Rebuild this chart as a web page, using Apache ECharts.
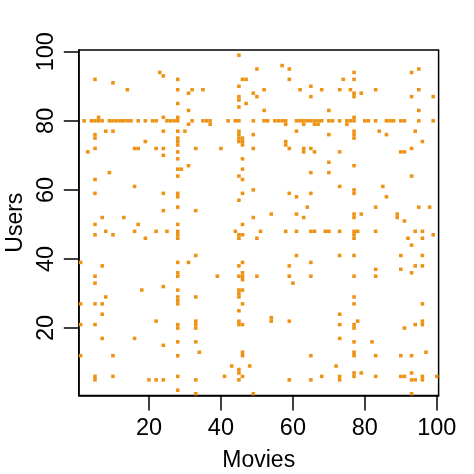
<!DOCTYPE html>
<html><head><meta charset="utf-8">
<script src="https://cdn.jsdelivr.net/npm/echarts@6/dist/echarts.min.js"></script>
<style>html,body{margin:0;padding:0;background:#fff}#c{width:474px;height:474px}</style>
</head><body><div id="c"></div>
<script>
// Tick labels
const xTicks = [20, 40, 60, 80, 100];
const yTicks = [20, 40, 60, 80, 100];
// Movies (columns) that have at least one rating
const movieIds = [1,2,3,4,5,6,7,8,9,10,11,12,13,14,15,16,17,18,19,20,21,22,23,24,25,26,27,28,29,30,31,32,33,34,35,36,37,39,40,41,42,43,44,45,46,47,48,49,50,51,52,53,54,55,56,57,58,59,60,61,62,63,64,65,66,67,68,69,70,71,72,73,74,75,76,77,78,79,80,81,82,83,84,85,86,87,88,89,90,91,92,93,94,95,96,97,98,99,100];
// Users who rated each movie (same order as movieIds)
const usersByMovie = [
  [39,27,21,12],
  [80],
  [71],
  [80],
  [92,80,76,75,72,63,59,50,47,35,33,27,21,6,5],
  [81,80],
  [80,52,38,27,24,17],
  [77,48,29],
  [80,65],
  [91,80,77,47,12,6],
  [80],
  [80],
  [80,52],
  [89,80],
  [80],
  [72,61,48,17],
  [80,72,50],
  [31],
  [80,74,46],
  [5],
  [80],
  [80,72,48,22,5],
  [94],
  [93,81,77,72,70,59,54,32,15,5],
  [80,48],
  [80],
  [80],
  [92,89,85,81,80,77,75,74,73,71,69,66,64,59,58,55,50,48,47,46,39,36,35,31,29,28,27,21,20,16,12,6,2],
  [66],
  [77],
  [88,83,79,67,39],
  [89,80],
  [72,54,41,29,22,21,20,16,5,1],
  [13],
  [89,80],
  [80],
  [80,79],
  [35],
  [72],
  [6],
  [80],
  [9],
  [80,48],
  [99,90,87,86,84,80,77,76,75,74,64,57,47,46,38,35,31,30,29,25,22,21,8,7,5],
  [92,75,74,73,69,66,63,59,50,47,39,36,35,34,31,27,21,13,12,6],
  [92,85],
  [9],
  [88,80,76,72,60,52,1],
  [95,87,46,35],
  [48],
  [89,83,80],
  [80],
  [53,23,22],
  [80],
  [80],
  [96,80],
  [80,79,74,73,48],
  [95,92,72,59,38,35,22,5],
  [33],
  [80,77,58,53,48,41],
  [89,80],
  [80,79,72,71,52],
  [80,55],
  [90,87,80,72,65,59,48,39,35,12,5],
  [80,79,71,48],
  [80,79],
  [89,80,6],
  [48],
  [83,80,76,68,65,48],
  [80],
  [9],
  [89,80,71,61,48,41,24,21,17,6,5],
  [92],
  [80,79],
  [89,80],
  [94,92,88,87,81,80,77,76,75,67,60,59,53,52,48,47,46,41,35,29,27,21,20,16,13,12,7,6],
  [48,22],
  [88,53,7],
  [80],
  [80],
  [16],
  [89,80,55,48,37,35,12,6],
  [77],
  [61],
  [80,76,58],
  [80],
  [80],
  [53,52],
  [80,71,41,37,12,6],
  [80,71,51,20,6],
  [46],
  [94,87,72,64,44,36,12,7,5,1],
  [77,48,38,21,5],
  [95,89,83,80,55],
  [74,48,46,41,38,27,22,21,6,5],
  [13],
  [55],
  [87,80,47],
  [6]
];

const cells = [];
movieIds.forEach((m, i) => usersByMovie[i].forEach(u => cells.push([m, u])));

const chart = echarts.init(document.getElementById('c'), null, {renderer: 'canvas'});
const FONT = 'Liberation Sans, Arial, Helvetica, sans-serif';
chart.setOption({
  animation: false,
  backgroundColor: '#fff',
  grid: {left: 78.8, right: 35.4, top: 50, bottom: 78.6, show: true, borderColor: '#000', borderWidth: 1.5, backgroundColor: 'transparent', containLabel: false, outerBoundsMode: 'none'},
  xAxis: {
    type: 'value', min: 0.5, max: 100.5,
    name: 'Movies', nameLocation: 'middle', nameGap: 54,
    nameTextStyle: {fontFamily: FONT, fontSize: 23, color: '#000'},
    axisLine: {show: true, lineStyle: {color: '#000', width: 1.5}},
    axisTick: {show: true, length: 15, customValues: xTicks, lineStyle: {color: '#000', width: 1.5}},
    axisLabel: {customValues: xTicks, fontFamily: FONT, fontSize: 23.5, color: '#000', margin: 21},
    splitLine: {show: false}
  },
  yAxis: {
    type: 'value', min: 0.5, max: 100.5,
    name: 'Users', nameLocation: 'middle', nameGap: 51, nameRotate: 90,
    nameTextStyle: {fontFamily: FONT, fontSize: 23, color: '#000'},
    axisLine: {show: true, lineStyle: {color: '#000', width: 1.5}},
    axisTick: {show: true, length: 15, customValues: yTicks, lineStyle: {color: '#000', width: 1.5}},
    axisLabel: {customValues: yTicks, rotate: 90, fontFamily: FONT, fontSize: 23.5, color: '#000', margin: 20},
    splitLine: {show: false}
  },
  series: [{
    type: 'scatter',
    data: cells,
    symbol: 'rect',
    symbolSize: [3.6, 3.5],
    itemStyle: {color: '#EE9214', opacity: 1},
    silent: true
  }]
});
</script>
</body></html>
